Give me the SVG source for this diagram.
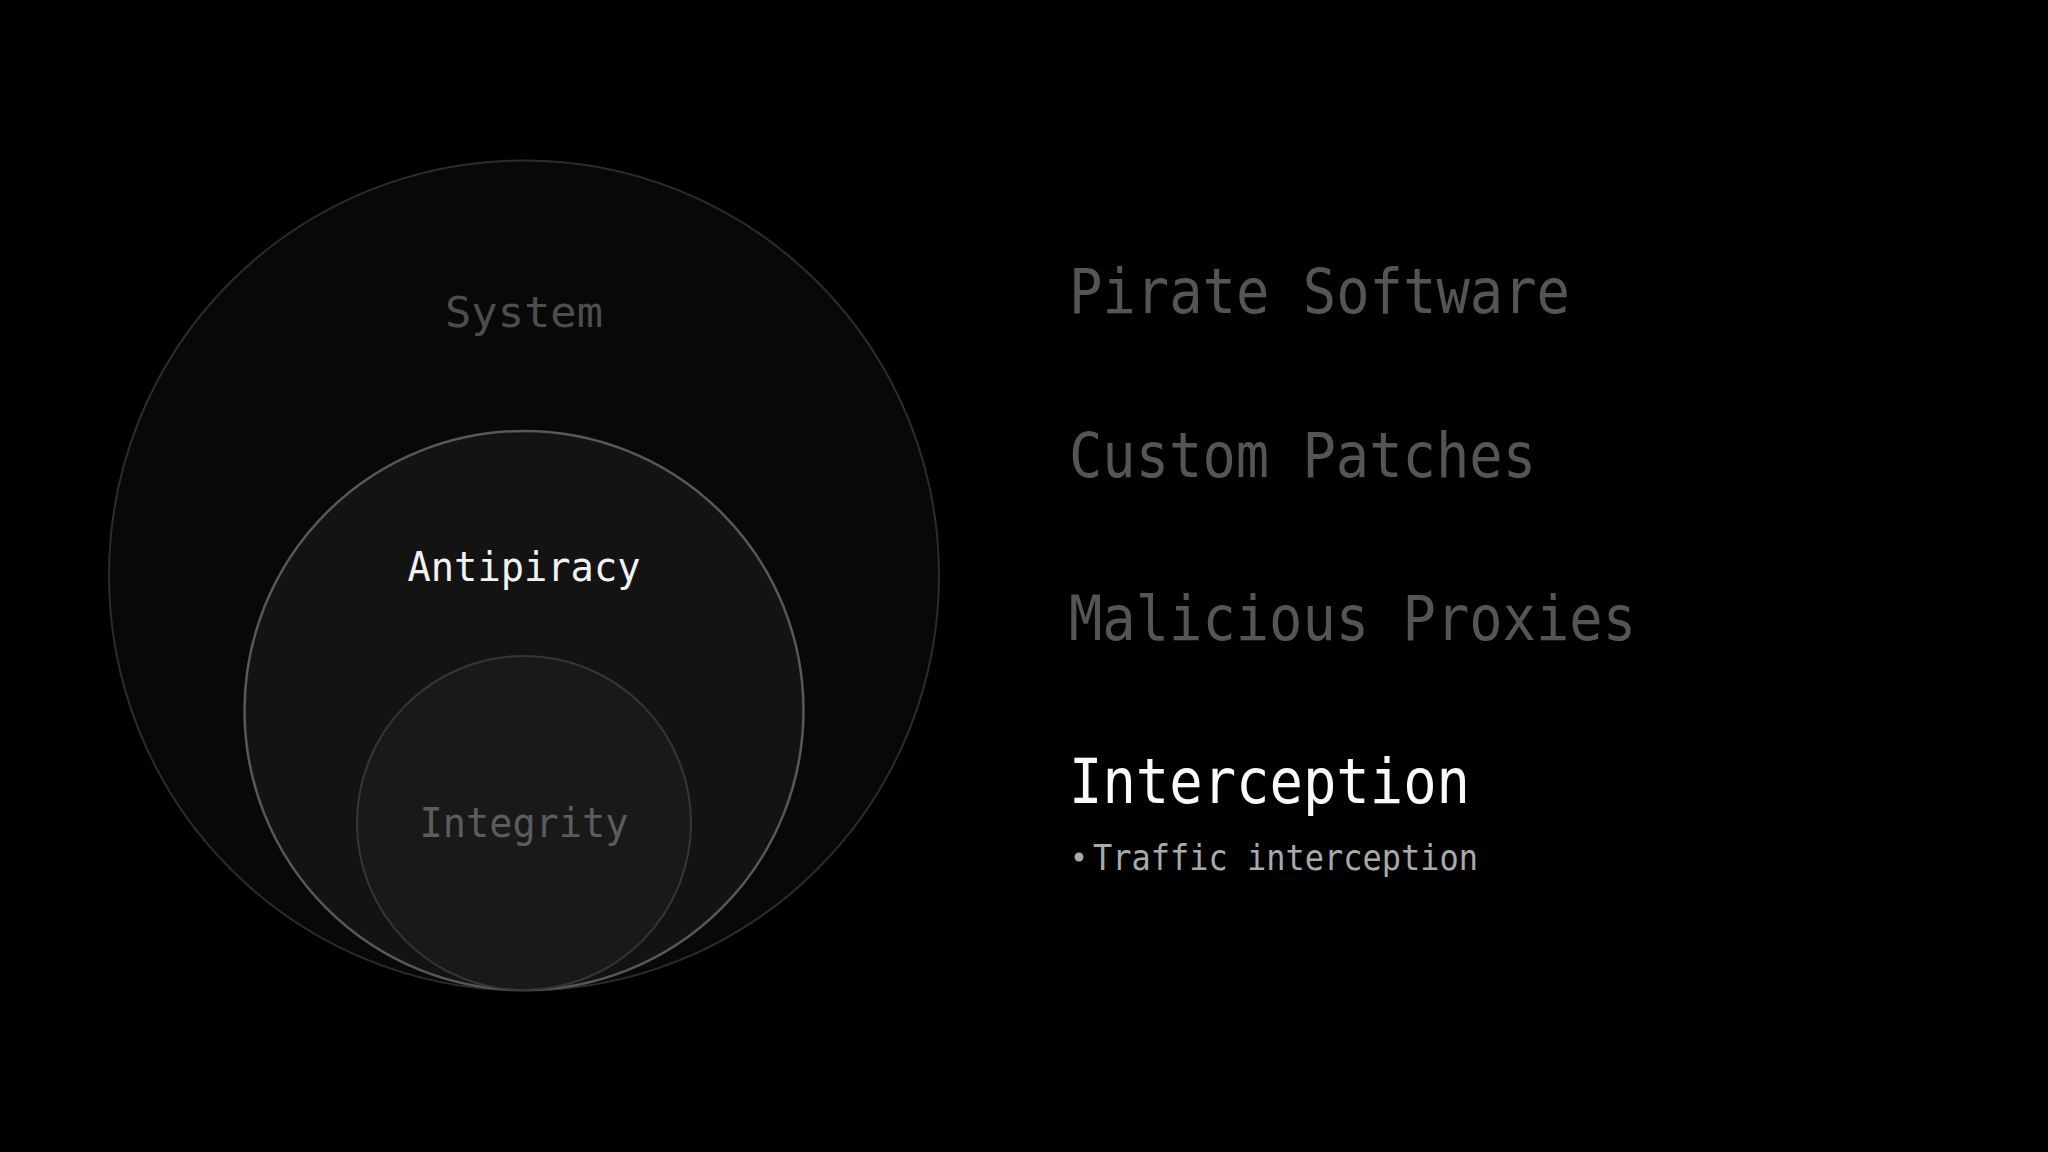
<svg xmlns="http://www.w3.org/2000/svg" width="2048" height="1152" viewBox="0 0 2048 1152">
<style>
.t{font-family:"DejaVu Sans Mono","Liberation Mono",monospace;}
.c{text-anchor:middle;}
</style>
<rect width="2048" height="1152" fill="#000"/>
<g id="system">
<circle cx="524" cy="575.5" r="415" fill="#080808" stroke="#2c2c2c" stroke-width="2"/>
<text class="t c" x="524" y="327" font-size="42" fill="#4d4d4d" textLength="158" lengthAdjust="spacingAndGlyphs">System</text>
</g>
<g id="antipiracy">
<circle cx="524" cy="710.5" r="279.5" fill="#131313" stroke="#585858" stroke-width="2.5"/>
<text class="t c" x="524" y="581" font-size="40" fill="#f2f2f2" textLength="233" lengthAdjust="spacingAndGlyphs">Antipiracy</text>
</g>
<g id="integrity">
<circle cx="524" cy="823" r="167" fill="#191919" stroke="#363636" stroke-width="2"/>
<text class="t c" x="524" y="837" font-size="40" fill="#5c5c5c" textLength="209" lengthAdjust="spacingAndGlyphs">Integrity</text>
</g>
<g id="pirate-software">
<text class="t" x="1069" y="313" font-size="62" fill="#555" textLength="501" lengthAdjust="spacingAndGlyphs">Pirate Software</text>
</g>
<g id="custom-patches">
<text class="t" x="1069" y="477" font-size="62" fill="#555" textLength="467" lengthAdjust="spacingAndGlyphs">Custom Patches</text>
</g>
<g id="malicious-proxies">
<text class="t" x="1069" y="640" font-size="62" fill="#555" textLength="567" lengthAdjust="spacingAndGlyphs">Malicious Proxies</text>
</g>
<g id="interception">
<text class="t" x="1069" y="803" font-size="62" fill="#fafafa" textLength="401" lengthAdjust="spacingAndGlyphs">Interception</text>
</g>
<g id="traffic-interception">
<circle cx="1079" cy="857" r="4.5" fill="#aaa"/>
<text class="t" x="1093" y="870" font-size="35" fill="#aaa" textLength="385" lengthAdjust="spacingAndGlyphs">Traffic interception</text>
</g>
<g id="connectors"/>
</svg>
